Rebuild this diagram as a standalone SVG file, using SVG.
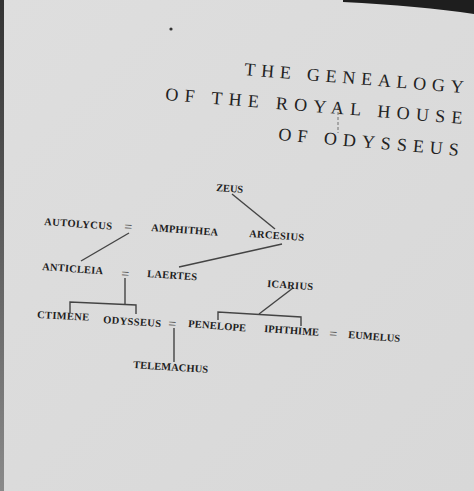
<svg xmlns="http://www.w3.org/2000/svg" width="474" height="491" viewBox="0 0 474 491">
<defs>
<linearGradient id="bg" x1="0" y1="0" x2="1" y2="1">
<stop offset="0" stop-color="#dedede"/>
<stop offset="1" stop-color="#d8d8d8"/>
</linearGradient>
<linearGradient id="edge" x1="0" y1="0" x2="0" y2="1">
<stop offset="0" stop-color="#333"/>
<stop offset="1" stop-color="#8a8a8a"/>
</linearGradient>
<style>
.title{font-family:"Liberation Serif",serif;font-size:18px;fill:#222}
.name{font-family:"Liberation Serif",serif;font-size:10.5px;font-weight:bold;fill:#1e1e1e}
.eq{font-family:"Liberation Serif",serif;font-size:14px;fill:#333}
.ln{stroke:#444;stroke-width:1.4;fill:none}
</style>
</defs>
<rect width="474" height="491" fill="url(#bg)"/>
<rect x="0" y="0" width="4" height="491" fill="url(#edge)"/>
<path d="M343,0 L474,0 L474,14 Q420,6 343,2 Z" fill="#1e1e1e"/>
<circle cx="171" cy="29" r="1.6" fill="#333"/>
<path d="M338,107 L338,133" stroke="#555" stroke-width="0.8" stroke-dasharray="3,2"/>

<g id="title">
<text class="title" x="244" y="75" textLength="220" lengthAdjust="spacing" transform="rotate(4.7 244 75)">THE GENEALOGY</text>
<text class="title" x="165" y="100" textLength="298" lengthAdjust="spacing" transform="rotate(4.6 165 100)">OF THE ROYAL HOUSE</text>
<text class="title" x="278" y="140" textLength="181" lengthAdjust="spacing" transform="rotate(5 278 140)">OF ODYSSEUS</text>
</g>

<g id="connectors">
<line class="ln" x1="232" y1="194" x2="275" y2="229"/>
<line class="ln" x1="129" y1="233" x2="81" y2="261"/>
<line class="ln" x1="282" y1="244" x2="179" y2="267"/>
<line class="ln" x1="125" y1="278" x2="125" y2="305"/>
<polyline class="ln" points="70,313 70,302 136,305 136,314"/>
<line class="ln" x1="293" y1="288" x2="259" y2="314"/>
<polyline class="ln" points="218,320 218,312 301,317 301,326"/>
<line class="ln" x1="174" y1="328" x2="174" y2="362"/>
</g>

<g id="zeus"><text class="name" x="216" y="191" textLength="27" transform="rotate(4 216 191)">ZEUS</text></g>
<g id="autolycus"><text class="name" x="44" y="225" textLength="68" transform="rotate(4 44 225)">AUTOLYCUS</text></g>
<g id="eq1"><text class="eq" x="124" y="231" transform="rotate(4 124 231)">=</text></g>
<g id="amphithea"><text class="name" x="151" y="231" textLength="67" transform="rotate(4 151 231)">AMPHITHEA</text></g>
<g id="arcesius"><text class="name" x="249" y="237" textLength="55" transform="rotate(4 249 237)">ARCESIUS</text></g>
<g id="anticleia"><text class="name" x="42" y="270" textLength="61" transform="rotate(4 42 270)">ANTICLEIA</text></g>
<g id="eq2"><text class="eq" x="121" y="278" transform="rotate(4 121 278)">=</text></g>
<g id="laertes"><text class="name" x="147" y="277" textLength="50" transform="rotate(4 147 277)">LAERTES</text></g>
<g id="icarius"><text class="name" x="267" y="287" textLength="46" transform="rotate(4 267 287)">ICARIUS</text></g>
<g id="ctimene"><text class="name" x="37" y="318" textLength="52" transform="rotate(3 37 318)">CTIMENE</text></g>
<g id="odysseus"><text class="name" x="103" y="323" textLength="58" transform="rotate(4 103 323)">ODYSSEUS</text></g>
<g id="eq3"><text class="eq" x="168" y="328" transform="rotate(4 168 328)">=</text></g>
<g id="penelope"><text class="name" x="188" y="327" textLength="58" transform="rotate(4.5 188 327)">PENELOPE</text></g>
<g id="iphthime"><text class="name" x="264" y="332" textLength="55" transform="rotate(4 264 332)">IPHTHIME</text></g>
<g id="eq4"><text class="eq" x="329" y="338" transform="rotate(4 329 338)">=</text></g>
<g id="eumelus"><text class="name" x="348" y="338" textLength="52" transform="rotate(4.4 348 338)">EUMELUS</text></g>
<g id="telemachus"><text class="name" x="133" y="368" textLength="75" transform="rotate(3.8 133 368)">TELEMACHUS</text></g>
</svg>
